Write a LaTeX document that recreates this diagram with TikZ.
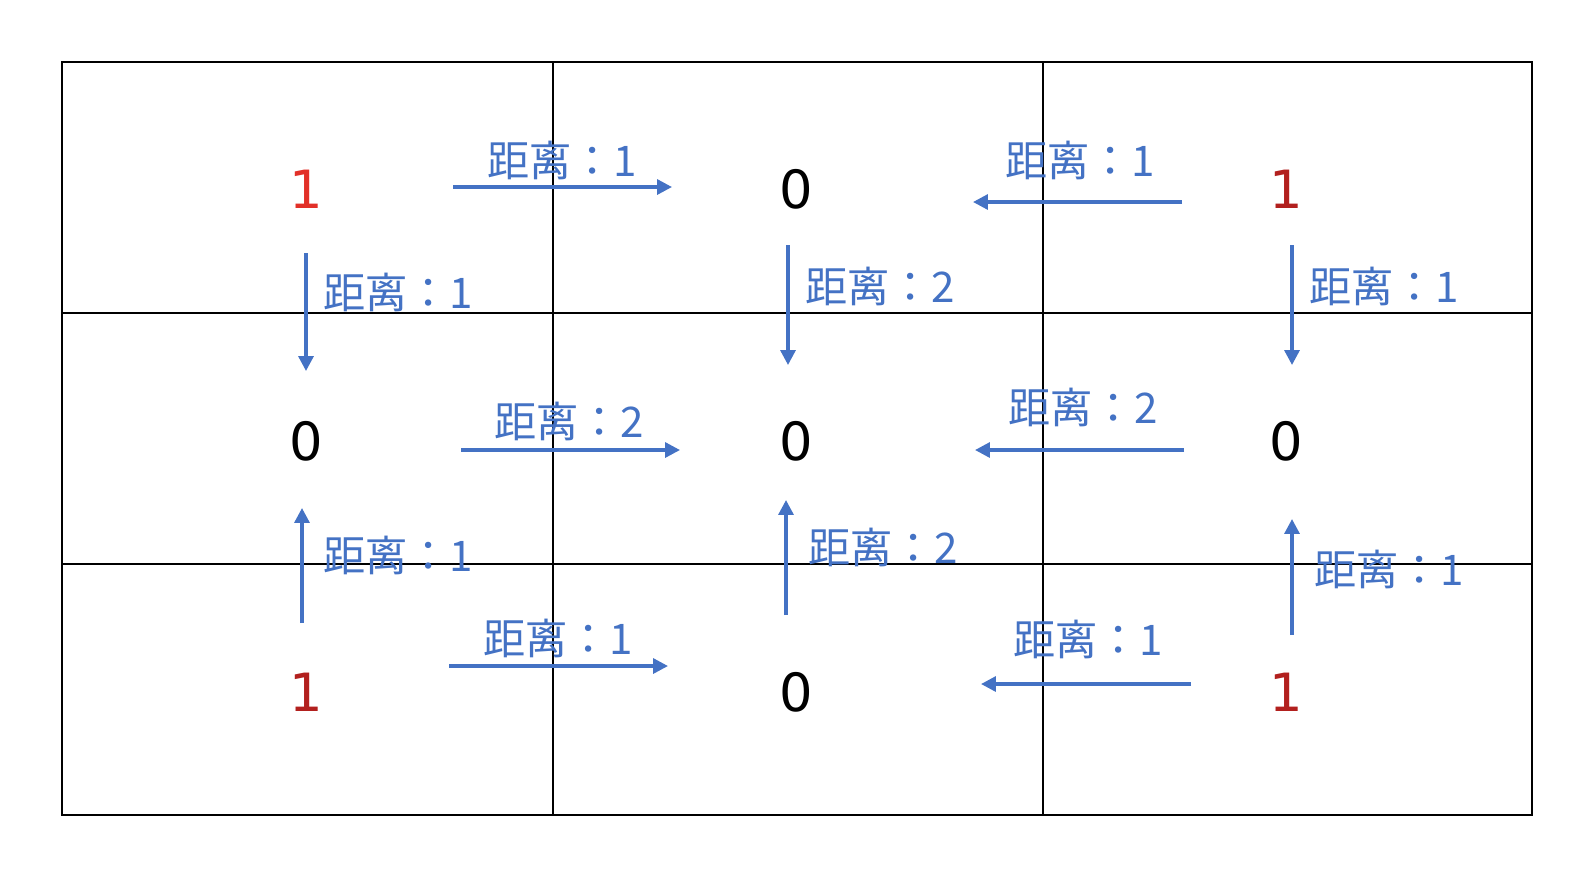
\documentclass[tikz,border=0pt]{standalone}
\usepackage{fontspec}
\setmainfont{Noto Sans CJK JP}
\newfontfamily\digitfont{DejaVu Sans}
\usetikzlibrary{arrows.meta}
\definecolor{lineblue}{RGB}{68,114,196}
\definecolor{hotred}{RGB}{226,48,40}
\definecolor{darkred}{RGB}{178,32,30}

\begin{document}
\begin{tikzpicture}[
  x=0.02cm, y=-0.02cm,
  grid/.style={draw=black, line width=1.1pt},
  num/.style={font=\digitfont\fontsize{30}{30}\selectfont, inner sep=0pt},
  src/.style={num, text=darkred},
  dist/.style={font=\fontsize{24}{24}\selectfont, text=lineblue, inner sep=0pt},
  go/.style={-{Triangle[length=8.5pt, width=8.5pt]}, draw=lineblue, line width=1.9pt}
]
\useasboundingbox (0,0) rectangle (1584,870);

% the 3x3 board
\draw[grid] (62,62) rectangle (1532,815);
\draw[grid] (553,62) -- (553,815) (1043,62) -- (1043,815);
\draw[grid] (62,313) -- (1532,313) (62,564) -- (1532,564);

% cell values
\node[src, text=hotred] (c11) at (306,189) {1};
\node[num] (c12) at (796,189) {0};
\node[src] (c13) at (1286,189) {1};
\node[num] (c21) at (306,441) {0};
\node[num] (c22) at (796,441) {0};
\node[num] (c23) at (1286,441) {0};
\node[src] (c31) at (306,692) {1};
\node[num] (c32) at (796,692) {0};
\node[src] (c33) at (1286,692) {1};

% arrow end points
\coordinate (a1s) at (453,187);  \coordinate (a1e) at (672,187);
\coordinate (a2s) at (1182,202); \coordinate (a2e) at (973,202);
\coordinate (a3s) at (306,253);  \coordinate (a3e) at (306,371);
\coordinate (a4s) at (788,245);  \coordinate (a4e) at (788,365);
\coordinate (a5s) at (1292,245); \coordinate (a5e) at (1292,365);
\coordinate (a6s) at (461,450);  \coordinate (a6e) at (680,450);
\coordinate (a7s) at (1184,450); \coordinate (a7e) at (975,450);
\coordinate (a8s) at (302,623);  \coordinate (a8e) at (302,508);
\coordinate (a9s) at (786,615);  \coordinate (a9e) at (786,500);
\coordinate (a10s) at (1292,635); \coordinate (a10e) at (1292,519);
\coordinate (a11s) at (449,666); \coordinate (a11e) at (668,666);
\coordinate (a12s) at (1191,684); \coordinate (a12e) at (981,684);

\draw[go] (a1s) -- (a1e);
\draw[go] (a2s) -- (a2e);
\draw[go] (a3s) -- (a3e);
\draw[go] (a4s) -- (a4e);
\draw[go] (a5s) -- (a5e);
\draw[go] (a6s) -- (a6e);
\draw[go] (a7s) -- (a7e);
\draw[go] (a8s) -- (a8e);
\draw[go] (a9s) -- (a9e);
\draw[go] (a10s) -- (a10e);
\draw[go] (a11s) -- (a11e);
\draw[go] (a12s) -- (a12e);

% distance labels
\node[dist] (d1) at (562,160) {距离：1};
\node[dist] (d2) at (1080,160) {距离：1};
\node[dist, anchor=west] (d3) at (323,292) {距离：1};
\node[dist, anchor=west] (d4) at (805,286) {距离：2};
\node[dist, anchor=west] (d5) at (1309,286) {距离：1};
\node[dist] (d6) at (569,421) {距离：2};
\node[dist] (d7) at (1083,407) {距离：2};
\node[dist, anchor=west] (d8) at (323,555) {距离：1};
\node[dist, anchor=west] (d9) at (808,547) {距离：2};
\node[dist, anchor=west] (d10) at (1314,569) {距离：1};
\node[dist] (d11) at (558,638) {距离：1};
\node[dist] (d12) at (1088,639) {距离：1};
\end{tikzpicture}
\end{document}
